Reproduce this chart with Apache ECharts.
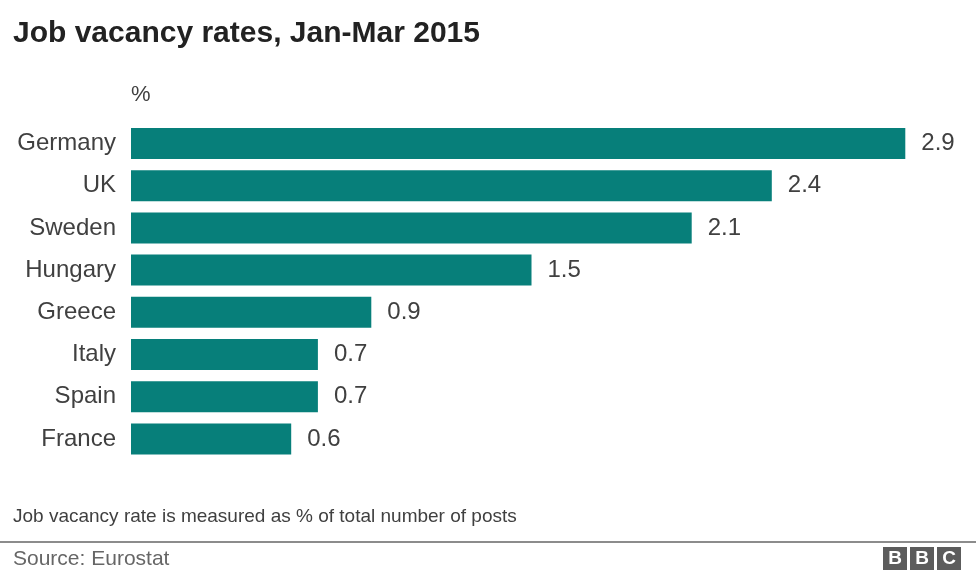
<!DOCTYPE html>
<html>
<head>
<meta charset="utf-8">
<style>
html,body{margin:0;padding:0;background:#fff;}
#chart{width:976px;height:581px;}
</style>
<script src="https://cdn.jsdelivr.net/npm/echarts@6/dist/echarts.min.js"></script>
</head>
<body>
<div id="chart"></div>
<script>
var categories = ["Germany", "UK", "Sweden", "Hungary", "Greece", "Italy", "Spain", "France"];
var values = [2.9, 2.4, 2.1, 1.5, 0.9, 0.7, 0.7, 0.6];
var titleText = "Job vacancy rates, Jan-Mar 2015";
var unitText = "%";
var noteText = "Job vacancy rate is measured as % of total number of posts";
var sourceText = "Source: Eurostat";
var logoLetters = ["B", "B", "C"];

var FONT = "'Liberation Sans', Arial, Helvetica, sans-serif";
var chart = echarts.init(document.getElementById('chart'), null, {renderer: 'canvas'});

var graphics = [
  {type: 'text', left: 13, top: 19, style: {text: titleText, font: 'bold 30px ' + FONT, fill: '#222222'}},
  {type: 'text', left: 131, top: 84, style: {text: unitText, font: '22px ' + FONT, fill: '#404040'}},
  {type: 'text', left: 13, top: 507, style: {text: noteText, font: '19px ' + FONT, fill: '#404040'}},
  {type: 'rect', left: 0, top: 541, shape: {width: 976, height: 2}, style: {fill: '#8c8c8c'}},
  {type: 'text', left: 13, top: 549, style: {text: sourceText, font: '21px ' + FONT, fill: '#666666'}}
];
logoLetters.forEach(function (l, i) {
  graphics.push({
    type: 'group', left: 883 + i * 27, top: 547,
    children: [
      {type: 'rect', shape: {x: 0, y: 0, width: 24, height: 23}, style: {fill: '#5c5c5c'}},
      {type: 'text', x: 12, y: 12, style: {text: l, font: 'bold 19px ' + FONT, fill: '#ffffff', align: 'center', verticalAlign: 'middle'}}
    ]
  });
});

chart.setOption({
  animation: false,
  backgroundColor: '#ffffff',
  grid: {left: 131, right: 44, top: 122.4, height: 337.6, containLabel: false},
  xAxis: {
    type: 'value', min: 0, max: 3, show: false
  },
  yAxis: {
    type: 'category', data: categories, inverse: true,
    axisLine: {show: false}, axisTick: {show: false}, splitLine: {show: false},
    axisLabel: {color: '#404040', fontSize: 24, fontFamily: FONT, margin: 15, padding: [3, 0, 0, 0]}
  },
  series: [{
    type: 'bar', data: values, barWidth: 31,
    itemStyle: {color: '#077f7a'},
    label: {show: true, position: 'right', distance: 16, color: '#404040', fontSize: 24, fontFamily: FONT, padding: [3, 0, 0, 0]}
  }],
  graphic: graphics
});
</script>
</body>
</html>
